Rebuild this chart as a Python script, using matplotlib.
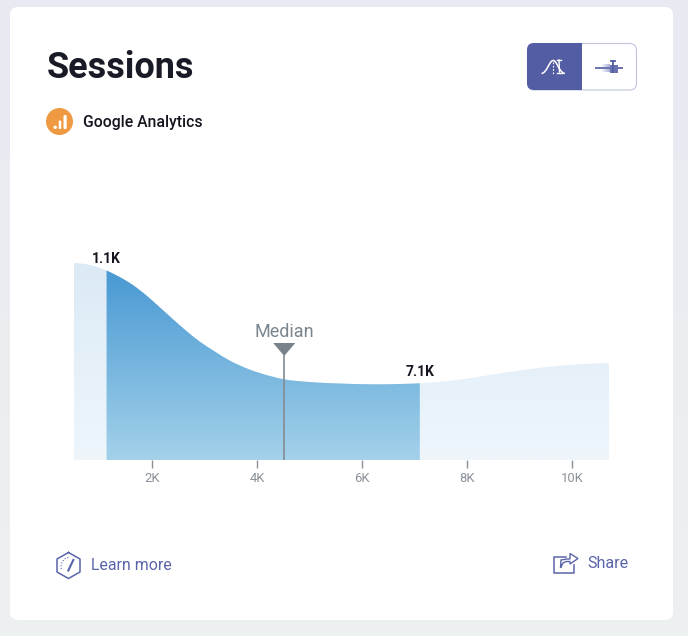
import matplotlib
matplotlib.use("Agg")
import matplotlib.pyplot as plt
import numpy as np
from matplotlib.colors import LinearSegmentedColormap
from matplotlib.patches import FancyBboxPatch, Circle, Rectangle, PathPatch
from matplotlib.path import Path

plt.rcParams['font.family'] = ['Roboto', 'DejaVu Sans']

# curve
sessions_k = [0.52, 0.73, 0.93, 1.14, 1.39, 1.64, 1.90, 2.15, 2.41, 2.66, 2.91, 3.17, 3.48, 3.86, 4.25, 4.51,
              5.00, 5.58, 6.21, 6.72, 7.10, 7.80, 8.43, 9.06, 9.71, 10.20, 10.70]
density = [197, 196, 193.5, 189.5, 183, 175, 164.5, 152.8, 140.5, 129, 118.5, 109.5, 99.5, 90.5, 84, 80.8,
           78, 76.5, 75.7, 76, 76.7, 80, 85, 90, 94, 96, 97]
tick_values = [2, 4, 6, 8, 10]
tick_labels = ["2K", "4K", "6K", "8K", "10K"]
range_low = 1.14
range_high = 7.10
range_labels = ["1.1K", "7.1K"]
median_k = 4.52

W, H = 688, 636


def area_path(x, y):
    # closed area under the curve, bezier segments through the read points
    slope = np.gradient(y, x)
    verts = [(x[0], 0), (x[0], y[0])]
    codes = [Path.MOVETO, Path.LINETO]
    for i in range(len(x) - 1):
        d = (x[i + 1] - x[i]) / 3
        verts += [(x[i] + d, y[i] + slope[i] * d), (x[i + 1] - d, y[i + 1] - slope[i + 1] * d), (x[i + 1], y[i + 1])]
        codes += [Path.CURVE4] * 3
    verts += [(x[-1], 0), (x[0], 0)]
    codes += [Path.LINETO, Path.CLOSEPOLY]
    return Path(verts, codes)


fig = plt.figure(figsize=(W / 100, H / 100), dpi=100)

# page + card, in pixel coords
bg = fig.add_axes([0, 0, 1, 1])
bg_cmap = LinearSegmentedColormap.from_list("bg", ["#e8e9f1", "#eef1f1"])
bg.imshow(np.linspace(0, 1, 64).reshape(-1, 1), cmap=bg_cmap, extent=[0, W, H, 0], aspect="auto", zorder=0)
bg.set_xlim(0, W)
bg.set_ylim(H, 0)
bg.axis("off")
for grow, a in [(5, 0.012), (3, 0.015), (1.5, 0.02)]:
    bg.add_patch(FancyBboxPatch((16 - grow, 13 - grow), 651 + 2 * grow, 603 + 2 * grow,
                                boxstyle="round,pad=0,rounding_size=8", fc="#20383a", ec="none", alpha=a, zorder=1))
bg.add_patch(FancyBboxPatch((10, 7), 663, 613, boxstyle="round,pad=0,rounding_size=8",
                            fc="white", ec="none", zorder=2))

bg.text(46.5, 68.5, "Sessions", fontsize=25.9, fontweight="bold", color="#181a26", va="center", ha="left", zorder=3)

# analytics badge
bg.add_patch(Circle((59.5, 121.5), 13.5, fc="#ef9a42", ec="none", zorder=3))
bg.add_patch(Circle((55.2, 127.3), 1.7, fc="white", ec="none", zorder=4))
bg.add_patch(FancyBboxPatch((58.7, 120.5), 2.6, 8.5, boxstyle="round,pad=0,rounding_size=1", fc="white", ec="none", zorder=4))
bg.add_patch(FancyBboxPatch((63.5, 115), 3.2, 14, boxstyle="round,pad=0,rounding_size=1.2", fc="white", ec="none", zorder=4))
bg.text(83, 122.5, "Google Analytics", fontsize=11.3, fontweight="medium", color="#14151f", va="center", ha="left", zorder=3)

# toggle button
purple = "#535da3"
bg.add_patch(FancyBboxPatch((527.5, 43.5), 109, 46.5, boxstyle="round,pad=0,rounding_size=7",
                            fc="white", ec="#c0c4e0", lw=0.8, zorder=3))
clip = FancyBboxPatch((527, 43), 110, 47, boxstyle="round,pad=0,rounding_size=7", fc="none", ec="none",
                      transform=bg.transData)
bg.add_patch(clip)
left_half = Rectangle((527, 43), 54.5, 47, fc=purple, ec="none", zorder=4)
bg.add_patch(left_half)
left_half.set_clip_path(clip)
bell = Path([(541.5, 73.5), (547, 73), (549, 61), (553, 60.5), (557, 60), (559, 73), (565, 73.5)],
            [Path.MOVETO, Path.CURVE4, Path.CURVE4, Path.CURVE4, Path.CURVE4, Path.CURVE4, Path.CURVE4])
bg.add_patch(PathPatch(bell, fc="none", ec="white", lw=1.1, zorder=5))
bg.plot([553, 553], [62, 74], color="white", lw=0.8, ls=(0, (1.5, 1.5)), zorder=5)
bg.plot([556.5, 561], [60, 60], color="white", lw=1, zorder=5)
bg.plot([559, 559.5], [60, 72], color="white", lw=1, zorder=5)
bg.plot([557, 562], [73, 73], color="white", lw=1, zorder=5)

bg.plot([596, 622], [67.5, 67.5], color="#6a73b0", lw=1.4, zorder=4)
fade = LinearSegmentedColormap.from_list("fade", ["#ffffff", "#a9aed6"])
bg.imshow(np.linspace(0, 1, 16).reshape(1, -1), cmap=fade, extent=[601, 610, 72, 64], aspect="auto", zorder=3.5)
bg.add_patch(Rectangle((610, 64.5), 8, 8, fc="#6a73b0", ec="none", zorder=5))
bg.plot([612.5, 612.5], [61, 72], color=purple, lw=1.3, zorder=6)
bg.plot([610.5, 614.5], [61, 61], color=purple, lw=1.3, zorder=6)
bg.set_xlim(0, W)
bg.set_ylim(H, 0)

# footer links
link = "#5a64aa"
hx = 68.5 + 11.5 / np.cos(np.pi / 6) * np.sin(np.arange(7) * np.pi / 3)
hy = 565.5 - 13 * np.cos(np.arange(7) * np.pi / 3)
bg.plot(hx, hy, color=link, lw=1.1, zorder=3, solid_joinstyle="round")
bg.plot([68.3, 73.3], [570.5, 560], color=link, lw=1.5, zorder=3)
t = np.linspace(np.radians(95), np.radians(195), 9)
bg.plot(69 + 8 * np.cos(t), 567 - 9.5 * np.sin(t), color=link, lw=0.8, ls=(0, (1, 1.5)), zorder=3)
bg.text(91, 566, "Learn more", fontsize=11.4, color=link, va="center", ha="left", zorder=3)

bg.plot([566, 553.5, 553.5, 573.5, 573.5], [557, 557, 573, 573, 565], color=link, lw=1.1, zorder=3)
arrow = Path([(560.5, 568), (561, 560), (567, 559), (570, 559), (570, 553.5), (578, 558.5), (570, 564), (570, 561.5), (566, 561.5), (563, 563), (560.5, 568)])
bg.add_patch(PathPatch(arrow, fc="white", ec=link, lw=1, zorder=4))
bg.text(587.5, 563.5, "Share", fontsize=11.6, color=link, va="center", ha="left", zorder=3)

# chart area: 74..609 px wide, baseline at 460 px, one density unit = one pixel
ax = fig.add_axes([74 / W, (H - 460) / H, (609 - 74) / W, 210 / H])
ax.patch.set_alpha(0)
for s in ax.spines.values():
    s.set_visible(False)
ax.set_yticks([])

x = np.array(sessions_k)
y = np.array(density)
grad = np.linspace(1, 0, 128).reshape(-1, 1)

light = LinearSegmentedColormap.from_list("light", ["#eef6fc", "#dceaf6"])
dark = LinearSegmentedColormap.from_list("dark", ["#a3d1ea", "#4999d3"])

im1 = ax.imshow(grad, cmap=light, extent=[x[0], x[-1], 0, 197], aspect="auto", zorder=1)
im1.set_clip_path(PathPatch(area_path(x, y), transform=ax.transData))

m = (x >= range_low) & (x <= range_high)
im2 = ax.imshow(grad, cmap=dark, extent=[x[0], x[-1], 0, 190], aspect="auto", zorder=2)
im2.set_clip_path(PathPatch(area_path(x[m], y[m]), transform=ax.transData))

ax.set_xlim(sessions_k[0], sessions_k[-1])
ax.set_ylim(0, 210)
ax.set_xticks(tick_values)
ax.set_xticklabels(tick_labels)
ax.tick_params(axis="x", length=6, width=1, color="#8b9096", labelcolor="#8a9198", labelsize=9.4, pad=3)

# range labels
ax.text(range_low, np.interp(range_low, x, y) + 4.5, range_labels[0], fontsize=10, fontweight="bold",
        color="#14151f", ha="center", va="bottom", zorder=5)
ax.text(range_high, np.interp(range_high, x, y) + 4.5, range_labels[1], fontsize=10, fontweight="bold",
        color="#14151f", ha="center", va="bottom", zorder=5)

# median marker
ax.plot([median_k, median_k], [0, 104], color="#858b91", lw=1.2, zorder=4)
ax.fill([median_k - 0.21, median_k + 0.21, median_k], [117, 117, 104], color="#78828a", lw=0, zorder=5)
ax.text(median_k, 119, "Median", fontsize=13, color="#7b858e", ha="center", va="bottom", zorder=5)

fig.savefig("out.png", dpi=100)
